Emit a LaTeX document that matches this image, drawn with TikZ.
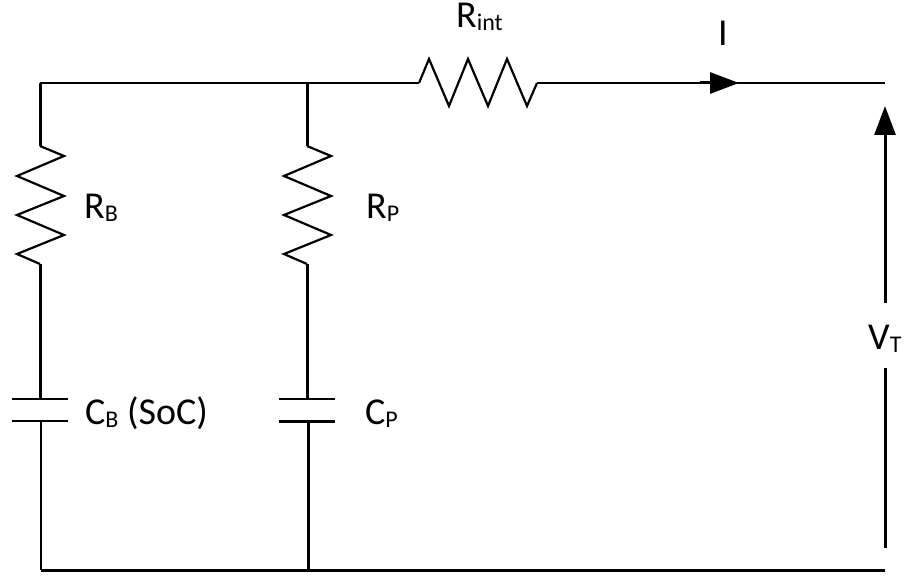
\documentclass[tikz,border=0pt]{standalone}
\usepackage{fontspec}
\setmainfont{Carlito}
\usetikzlibrary{arrows.meta}

\newcommand{\subtxt}[1]{\raisebox{-3pt}{\fontsize{24}{24}\selectfont #1}}

\begin{document}
\begin{tikzpicture}[x=1pt,y=-1pt,line join=miter,
        wire/.style={line width=3pt},
        thin wire/.style={line width=2.4pt},
        heavy wire/.style={line width=3pt},
        plate/.style={line width=2.2pt},
        zigzag/.style={line width=2.2pt},
        lbl/.style={inner sep=0pt,anchor=base west,font=\fontsize{38}{38}\selectfont},
        tip arrow/.style={line width=3pt,-{Triangle[length=29pt,width=21pt]}}]
            \useasboundingbox (0,0) rectangle (909,580);

            % corners and junctions
            \coordinate (lefttop) at (40,83);
            \coordinate (midtop) at (307,83);
            \coordinate (rightend) at (885,83);
            \coordinate (leftbot) at (41,570);
            \coordinate (midbot) at (308,570);
            \coordinate (rightbot) at (885,570);

            % left branch
            \coordinate (rbtop) at (40,146);
            \coordinate (rbbot) at (40,264);
            \coordinate (cbtop) at (40,399);
            \coordinate (cbbot) at (41,421);
            \coordinate (cbtopl) at (12,399);
            \coordinate (cbtopr) at (68,399);
            \coordinate (cbbotl) at (12,421);
            \coordinate (cbbotr) at (68,421);

            % middle branch
            \coordinate (rptop) at (307,146);
            \coordinate (rpbot) at (307,264);
            \coordinate (cptop) at (307,399);
            \coordinate (cpbot) at (308,421);
            \coordinate (cptopl) at (279,399);
            \coordinate (cptopr) at (335,399);
            \coordinate (cpbotl) at (279,421.5);
            \coordinate (cpbotr) at (335,421.5);

            % top resistor and arrows
            \coordinate (rintl) at (419,83);
            \coordinate (rintr) at (537,83);
            \coordinate (itail) at (700,83);
            \coordinate (ihead) at (739,83);
            \coordinate (vtail) at (885,303);
            \coordinate (vhead) at (885,106);
            \coordinate (vlow) at (885,368);
            \coordinate (vbot) at (885,548);

            \node[lbl] (rintlabel) at (456,28) {R\subtxt{int}};
            \node[lbl] (ilabel) at (718,46) {I};
            \node[lbl] (rblabel) at (84,218) {R\subtxt{B}};
            \node[lbl] (rplabel) at (366,218) {R\subtxt{P}};
            \node[lbl] (cblabel) at (85,424) {C\subtxt{B} (SoC)};
            \node[lbl] (cplabel) at (365,424) {C\subtxt{P}};
            \node[lbl] (vtlabel) at (868,349) {V\subtxt{T}};

            \draw[thin wire] (midtop) -- (lefttop);
            \draw[wire] (lefttop) -- (rbtop);
            \draw[wire] (midtop) -- (rptop);
            \draw[thin wire] (midtop) -- (rintl);
            \draw[thin wire] (rintr) -- (rightend);

            \draw[zigzag] (rbtop) -- ++(24,10) -- ++(-47,20) -- ++(47,20) -- ++(-47,19) -- ++(47,20) -- ++(-47,19) -- (rbbot);
            \draw[zigzag] (rptop) -- ++(24,10) -- ++(-47,20) -- ++(47,20) -- ++(-47,19) -- ++(47,20) -- ++(-47,19) -- (rpbot);
            \draw[zigzag] (rintl) -- ++(10,-24) -- ++(20,47) -- ++(19,-47) -- ++(20,47) -- ++(19,-47) -- ++(20,47) -- (rintr);

            \draw[wire] (rbbot) -- (cbtop);
            \draw[wire] (rpbot) -- (cptop);
            \draw[plate] (cbtopl) -- (cbtopr);
            \draw[plate] (cbbotl) -- (cbbotr);
            \draw[plate] (cptopl) -- (cptopr);
            \draw[heavy wire] (cpbotl) -- (cpbotr);
            \draw[thin wire] (cbbot) -- (leftbot);
            \draw[heavy wire] (cpbot) -- (midbot);
            \draw[heavy wire] (leftbot) -- (rightbot);

            \draw[tip arrow] (itail) -- (ihead);
            \draw[tip arrow] (vtail) -- (vhead);
            \draw[wire] (vlow) -- (vbot);
        \end{tikzpicture}
\end{document}
